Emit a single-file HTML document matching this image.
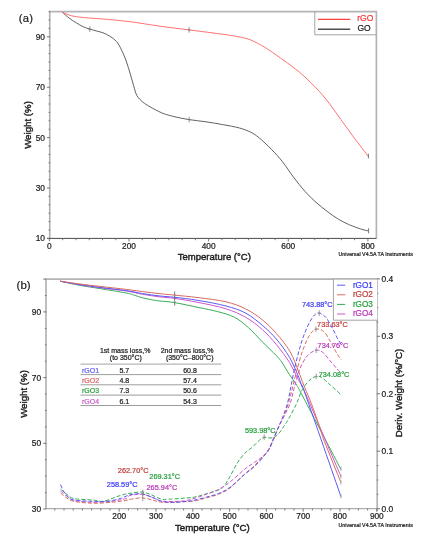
<!DOCTYPE html><html><head><meta charset="utf-8"><title>TGA</title><style>html,body{margin:0;padding:0;background:#fff;width:429px;height:550px;overflow:hidden}svg{display:block;filter:blur(0.25px)}text{font-family:"Liberation Sans",Arial,sans-serif}.t{stroke-width:0.22px;paint-order:stroke}.h{stroke-width:0.4px}</style></head><body>
<svg width="429" height="550" viewBox="0 0 429 550">
<path d="M49.75,238.4 V11.6 H376.4 V238.4" fill="none" stroke="#b4b4b4" stroke-width="1.7"/>
<path d="M47,238.4 H376.4" stroke="#4a4a4a" stroke-width="1"/>
<path d="M49.4,238.4 v3 M62.7,238.4 v1.8 M75.9,238.4 v1.8 M89.2,238.4 v1.8 M102.5,238.4 v1.8 M115.8,238.4 v1.8 M129.0,238.4 v3 M142.3,238.4 v1.8 M155.6,238.4 v1.8 M168.8,238.4 v1.8 M182.1,238.4 v1.8 M195.4,238.4 v1.8 M208.6,238.4 v3 M221.9,238.4 v1.8 M235.2,238.4 v1.8 M248.4,238.4 v1.8 M261.7,238.4 v1.8 M275.0,238.4 v1.8 M288.3,238.4 v3 M301.5,238.4 v1.8 M314.8,238.4 v1.8 M328.1,238.4 v1.8 M341.3,238.4 v1.8 M354.6,238.4 v1.8 M367.9,238.4 v3" stroke="#6a6a6a" stroke-width="0.9"/>
<path d="M50.1,11.6 h-1.5 M50.1,20.0 h-1.5 M50.1,28.4 h-1.5 M50.1,36.8 h-3.2 M50.1,45.2 h-1.5 M50.1,53.6 h-1.5 M50.1,62.0 h-1.5 M50.1,70.4 h-1.5 M50.1,78.8 h-1.5 M50.1,87.2 h-3.2 M50.1,95.6 h-1.5 M50.1,104.0 h-1.5 M50.1,112.4 h-1.5 M50.1,120.8 h-1.5 M50.1,129.2 h-1.5 M50.1,137.6 h-3.2 M50.1,146.0 h-1.5 M50.1,154.4 h-1.5 M50.1,162.8 h-1.5 M50.1,171.2 h-1.5 M50.1,179.6 h-1.5 M50.1,188.0 h-3.2 M50.1,196.4 h-1.5 M50.1,204.8 h-1.5 M50.1,213.2 h-1.5 M50.1,221.6 h-1.5 M50.1,230.0 h-1.5 M50.1,238.4 h-3.2" stroke="#6a6a6a" stroke-width="0.9"/>
<text class="t" x="45.0" y="39.8" font-size="8.4" fill="#1c1c1c" stroke="#1c1c1c" text-anchor="end">90</text>
<text class="t" x="45.0" y="90.2" font-size="8.4" fill="#1c1c1c" stroke="#1c1c1c" text-anchor="end">70</text>
<text class="t" x="45.0" y="140.6" font-size="8.4" fill="#1c1c1c" stroke="#1c1c1c" text-anchor="end">50</text>
<text class="t" x="45.0" y="191.0" font-size="8.4" fill="#1c1c1c" stroke="#1c1c1c" text-anchor="end">30</text>
<text class="t" x="45.0" y="241.4" font-size="8.4" fill="#1c1c1c" stroke="#1c1c1c" text-anchor="end">10</text>
<text class="t" x="49.4" y="249.3" font-size="8.3" fill="#1c1c1c" stroke="#1c1c1c" text-anchor="middle">0</text>
<text class="t" x="129.0" y="249.3" font-size="8.3" fill="#1c1c1c" stroke="#1c1c1c" text-anchor="middle">200</text>
<text class="t" x="208.6" y="249.3" font-size="8.3" fill="#1c1c1c" stroke="#1c1c1c" text-anchor="middle">400</text>
<text class="t" x="288.2" y="249.3" font-size="8.3" fill="#1c1c1c" stroke="#1c1c1c" text-anchor="middle">600</text>
<text class="t" x="367.8" y="249.3" font-size="8.3" fill="#1c1c1c" stroke="#1c1c1c" text-anchor="middle">800</text>
<text class="t h" x="214.3" y="259.9" font-size="9.55" fill="#1c1c1c" stroke="#1c1c1c" text-anchor="middle">Temperature (°C)</text>
<text class="t h" transform="translate(31.2,125) rotate(-90)" font-size="9.7" fill="#1c1c1c" stroke="#1c1c1c" text-anchor="middle">Weight (%)</text>
<text class="t" x="18.8" y="21.9" font-size="11.2" fill="#1c1c1c" stroke="#1c1c1c" letter-spacing="0.3">(a)</text>
<text class="t" x="375.7" y="256.4" font-size="5.3" fill="#1c1c1c" stroke="#1c1c1c" text-anchor="middle">Universal V4.5A TA Instruments</text>
<path d="M62.3,12.3 C63.5,13.3 67.0,16.4 69.3,18.2 C71.6,19.9 74.0,21.4 76.3,22.8 C78.6,24.2 81.0,25.8 83.3,26.8 C85.5,27.9 87.5,28.4 89.8,29.1 C92.1,29.8 95.1,30.6 97.3,31.2 C99.5,31.8 100.9,32.0 103.0,32.8 C105.1,33.6 107.6,34.8 109.8,36.2 C112.0,37.6 114.5,39.2 116.4,41.4 C118.3,43.6 119.7,46.2 121.3,49.5 C122.9,52.8 124.7,56.9 126.2,61.0 C127.7,65.1 129.1,70.0 130.3,74.1 C131.5,78.2 132.5,82.0 133.6,85.6 C134.7,89.1 135.3,92.7 136.8,95.4 C138.3,98.1 140.4,100.0 142.6,101.9 C144.8,103.8 146.9,105.0 150.0,106.8 C153.1,108.6 157.5,111.0 161.2,112.6 C164.9,114.2 167.7,115.0 172.4,116.2 C177.1,117.4 183.6,118.7 189.2,119.6 C194.8,120.5 200.4,121.0 206.0,121.8 C211.6,122.6 217.1,123.6 222.7,124.6 C228.3,125.6 234.8,126.7 239.5,128.0 C244.2,129.3 247.4,130.6 250.7,132.2 C254.0,133.8 255.7,135.0 259.1,137.8 C262.5,140.6 267.3,145.1 271.2,149.1 C275.1,153.1 278.7,156.9 282.4,161.6 C286.1,166.3 289.9,172.4 293.6,177.3 C297.3,182.2 301.1,187.0 304.8,191.2 C308.5,195.4 312.3,199.0 316.0,202.3 C319.7,205.7 323.4,208.5 327.1,211.3 C330.8,214.1 334.6,216.9 338.3,219.2 C342.0,221.4 345.8,223.2 349.5,224.8 C353.2,226.4 357.6,228.0 360.7,229.0 C363.8,230.0 366.9,230.6 368.2,230.9" fill="none" stroke="#5a5a5a" stroke-width="0.95"/>
<path d="M62.3,12.3 C63.9,12.9 68.2,14.9 71.7,15.8 C75.2,16.7 77.5,16.9 83.3,17.5 C89.1,18.1 98.8,18.6 106.6,19.3 C114.4,20.0 121.1,20.6 130.0,21.7 C138.9,22.8 150.2,24.8 160.0,26.2 C169.8,27.6 179.1,28.6 189.1,29.9 C199.1,31.2 211.8,32.8 220.0,33.9 C228.2,35.0 233.0,35.7 238.0,36.7 C243.0,37.7 245.5,37.9 250.0,39.7 C254.5,41.5 260.1,44.5 265.2,47.5 C270.2,50.5 275.2,54.3 280.3,57.9 C285.4,61.5 290.4,64.9 295.5,69.0 C300.6,73.1 305.6,77.4 310.6,82.4 C315.7,87.4 320.8,92.8 325.8,99.0 C330.9,105.2 335.9,112.7 340.9,119.6 C345.9,126.5 351.4,134.2 356.0,140.3 C360.6,146.4 366.2,153.5 368.2,156.2" fill="none" stroke="#ff6262" stroke-width="0.9"/>
<path d="M88.2,29.1 h3.2 M89.8,26.3 v5.6" stroke="#777" stroke-width="0.8"/>
<path d="M187.6,119.6 h3.2 M189.2,116.8 v5.6" stroke="#777" stroke-width="0.8"/>
<path d="M187.5,29.9 h3.2 M189.1,27.1 v5.6" stroke="#777" stroke-width="0.8"/>
<path d="M368.6,228.3 v5 M368.4,153.8 v4.6" stroke="#666" stroke-width="0.9"/>
<path d="M314.8,11.6 V34.8 H376.4" fill="none" stroke="#9a9a9a" stroke-width="0.9"/>
<path d="M318,19.3 H350.2" stroke="#ff4040" stroke-width="1.2"/>
<path d="M318,29.3 H350.2" stroke="#505050" stroke-width="1.4"/>
<text class="t" x="357.2" y="21.1" font-size="8.5" fill="#ff3333" stroke="#ff3333">rGO</text>
<text class="t" x="357.5" y="30.9" font-size="8.5" fill="#1c1c1c" stroke="#1c1c1c">GO</text>
<path d="M46.0,508.7 V279.1 H377.2 V511.2" fill="none" stroke="#b4b4b4" stroke-width="1.7"/>
<path d="M46.0,508.7 H377.2" stroke="#9a9a9a" stroke-width="1"/>
<path d="M54.8,508.7 v1.8 M64.0,508.7 v1.8 M73.2,508.7 v1.8 M82.4,508.7 v1.8 M91.6,508.7 v1.8 M100.8,508.7 v1.8 M110.0,508.7 v1.8 M119.2,508.7 v3 M128.4,508.7 v1.8 M137.6,508.7 v1.8 M146.8,508.7 v1.8 M156.0,508.7 v3 M165.2,508.7 v1.8 M174.4,508.7 v1.8 M183.6,508.7 v1.8 M192.8,508.7 v3 M202.0,508.7 v1.8 M211.2,508.7 v1.8 M220.4,508.7 v1.8 M229.6,508.7 v3 M238.8,508.7 v1.8 M248.0,508.7 v1.8 M257.2,508.7 v1.8 M266.4,508.7 v3 M275.6,508.7 v1.8 M284.8,508.7 v1.8 M294.0,508.7 v1.8 M303.2,508.7 v3 M312.4,508.7 v1.8 M321.6,508.7 v1.8 M330.8,508.7 v1.8 M340.0,508.7 v3 M349.2,508.7 v1.8 M358.4,508.7 v1.8 M367.6,508.7 v1.8 M376.8,508.7 v3" stroke="#6a6a6a" stroke-width="0.9"/>
<path d="M46.4,279.1 h-3.2 M46.4,295.5 h-1.5 M46.4,311.9 h-3.2 M46.4,328.4 h-1.5 M46.4,344.8 h-1.5 M46.4,361.2 h-1.5 M46.4,377.6 h-3.2 M46.4,394.0 h-1.5 M46.4,410.5 h-1.5 M46.4,426.9 h-1.5 M46.4,443.3 h-3.2 M46.4,459.7 h-1.5 M46.4,476.1 h-1.5 M46.4,492.6 h-1.5 M46.4,509.0 h-3.2" stroke="#6a6a6a" stroke-width="0.9"/>
<path d="M376.8,508.7 h3.2 M376.8,494.3 h1.5 M376.8,480.0 h1.5 M376.8,465.6 h1.5 M376.8,451.2 h3.2 M376.8,436.9 h1.5 M376.8,422.5 h1.5 M376.8,408.2 h1.5 M376.8,393.8 h3.2 M376.8,379.4 h1.5 M376.8,365.1 h1.5 M376.8,350.7 h1.5 M376.8,336.3 h3.2 M376.8,322.0 h1.5 M376.8,307.6 h1.5 M376.8,293.3 h1.5 M376.8,278.9 h3.2" stroke="#6a6a6a" stroke-width="0.9"/>
<text class="t" x="41.2" y="314.9" font-size="8.4" fill="#1c1c1c" stroke="#1c1c1c" text-anchor="end">90</text>
<text class="t" x="41.2" y="380.6" font-size="8.4" fill="#1c1c1c" stroke="#1c1c1c" text-anchor="end">70</text>
<text class="t" x="41.2" y="446.3" font-size="8.4" fill="#1c1c1c" stroke="#1c1c1c" text-anchor="end">50</text>
<text class="t" x="41.2" y="512.0" font-size="8.4" fill="#1c1c1c" stroke="#1c1c1c" text-anchor="end">30</text>
<text class="t" x="119.2" y="519.1" font-size="8.3" fill="#1c1c1c" stroke="#1c1c1c" text-anchor="middle">200</text>
<text class="t" x="156.0" y="519.1" font-size="8.3" fill="#1c1c1c" stroke="#1c1c1c" text-anchor="middle">300</text>
<text class="t" x="192.8" y="519.1" font-size="8.3" fill="#1c1c1c" stroke="#1c1c1c" text-anchor="middle">400</text>
<text class="t" x="229.6" y="519.1" font-size="8.3" fill="#1c1c1c" stroke="#1c1c1c" text-anchor="middle">500</text>
<text class="t" x="266.4" y="519.1" font-size="8.3" fill="#1c1c1c" stroke="#1c1c1c" text-anchor="middle">600</text>
<text class="t" x="303.2" y="519.1" font-size="8.3" fill="#1c1c1c" stroke="#1c1c1c" text-anchor="middle">700</text>
<text class="t" x="340.0" y="519.1" font-size="8.3" fill="#1c1c1c" stroke="#1c1c1c" text-anchor="middle">800</text>
<text class="t" x="376.8" y="519.1" font-size="8.3" fill="#1c1c1c" stroke="#1c1c1c" text-anchor="middle">900</text>
<text class="t" x="381.6" y="511.7" font-size="8.4" fill="#1c1c1c" stroke="#1c1c1c">0.0</text>
<text class="t" x="381.6" y="454.2" font-size="8.4" fill="#1c1c1c" stroke="#1c1c1c">0.1</text>
<text class="t" x="381.6" y="396.8" font-size="8.4" fill="#1c1c1c" stroke="#1c1c1c">0.2</text>
<text class="t" x="381.6" y="339.3" font-size="8.4" fill="#1c1c1c" stroke="#1c1c1c">0.3</text>
<text class="t" x="381.6" y="281.9" font-size="8.4" fill="#1c1c1c" stroke="#1c1c1c">0.4</text>
<text class="t h" x="212.4" y="530.9" font-size="9.75" fill="#1c1c1c" stroke="#1c1c1c" text-anchor="middle">Temperature (°C)</text>
<text class="t h" transform="translate(27.2,394) rotate(-90)" font-size="9.7" fill="#1c1c1c" stroke="#1c1c1c" text-anchor="middle">Weight (%)</text>
<text class="t h" transform="translate(402,393) rotate(-90)" font-size="9.7" fill="#1c1c1c" stroke="#1c1c1c" text-anchor="middle">Deriv. Weight (%/°C)</text>
<text class="t" x="16.6" y="288.6" font-size="11.5" fill="#1c1c1c" stroke="#1c1c1c">(b)</text>
<text class="t" x="375.7" y="526.8" font-size="5.3" fill="#1c1c1c" stroke="#1c1c1c" text-anchor="middle">Universal V4.5A TA Instruments</text>
<path d="M60.2,281.2 C63.5,281.9 73.4,284.2 80.0,285.4 C86.6,286.6 92.3,287.3 100.0,288.6 C107.7,289.9 120.5,291.9 126.3,293.0 C132.1,294.1 131.8,294.5 134.5,295.3 C137.2,296.1 139.9,297.1 142.6,297.8 C145.3,298.5 148.1,299.1 150.8,299.6 C153.5,300.1 155.0,300.4 159.0,300.9 C163.0,301.4 168.2,301.5 174.7,302.6 C181.2,303.7 190.8,305.9 198.0,307.4 C205.2,308.9 211.5,310.0 217.6,311.6 C223.7,313.2 229.2,314.6 234.3,317.2 C239.4,319.8 243.6,323.4 248.3,327.5 C253.0,331.6 257.6,337.1 262.3,341.8 C267.0,346.5 273.0,352.2 276.3,355.6 C279.6,359.1 279.9,359.4 282.0,362.5 C284.1,365.6 286.7,370.4 289.1,374.1 C291.5,377.9 294.2,381.0 296.6,385.0 C299.0,389.0 296.3,384.0 303.7,398.1 C311.1,412.2 334.8,457.7 341.0,469.6" fill="none" stroke="#36ad55" stroke-width="1"/>
<path d="M60.2,281.2 C63.5,281.8 73.4,283.7 80.0,284.8 C86.6,285.9 92.3,286.8 100.0,287.8 C107.7,288.8 119.2,289.9 126.3,291.0 C133.4,292.1 137.0,293.3 142.6,294.3 C148.2,295.3 154.7,296.2 160.0,296.9 C165.3,297.6 168.4,297.5 174.7,298.4 C181.0,299.3 189.4,300.7 198.0,302.4 C206.6,304.1 218.1,306.3 226.0,308.8 C233.9,311.3 239.4,313.8 245.5,317.2 C251.6,320.6 257.2,324.9 262.3,329.5 C267.4,334.1 271.8,339.0 276.3,344.5 C280.8,350.0 285.9,356.7 289.5,362.5 C293.1,368.3 296.1,375.6 298.2,379.5 C300.3,383.4 300.6,383.1 302.1,386.0 C303.6,388.9 300.5,381.9 307.0,397.0 C313.5,412.1 335.3,463.3 341.0,476.6" fill="none" stroke="#cc58cc" stroke-width="1"/>
<path d="M60.2,281.2 C63.5,281.8 73.4,283.6 80.0,284.6 C86.6,285.6 92.3,286.4 100.0,287.4 C107.7,288.4 119.2,289.6 126.3,290.6 C133.4,291.6 137.0,292.7 142.6,293.6 C148.2,294.5 154.7,295.4 160.0,296.0 C165.3,296.6 168.4,296.6 174.7,297.3 C181.0,298.0 189.4,298.9 198.0,300.4 C206.6,301.8 218.1,303.9 226.0,306.0 C233.9,308.1 239.4,309.8 245.5,313.0 C251.6,316.2 257.2,321.0 262.3,325.3 C267.4,329.6 271.8,333.7 276.3,339.0 C280.8,344.3 285.9,351.2 289.5,357.3 C293.1,363.4 296.1,371.0 298.2,375.9 C300.3,380.8 300.7,383.2 302.0,386.5 C303.3,389.8 299.4,377.5 305.9,395.9 C312.4,414.3 335.1,479.9 341.0,496.7" fill="none" stroke="#5a5af6" stroke-width="1"/>
<path d="M60.2,281.2 C63.5,281.7 73.4,283.1 80.0,284.0 C86.6,284.9 92.3,285.5 100.0,286.4 C107.7,287.3 119.2,288.5 126.3,289.4 C133.4,290.3 137.0,290.9 142.6,291.6 C148.2,292.3 154.7,293.1 160.0,293.7 C165.3,294.3 168.4,294.5 174.7,295.1 C181.0,295.8 189.4,296.5 198.0,297.6 C206.6,298.7 218.1,299.9 226.0,301.8 C233.9,303.7 239.4,305.8 245.5,308.8 C251.6,311.8 257.2,315.7 262.3,319.8 C267.4,323.9 271.7,328.1 276.3,333.4 C280.9,338.7 286.4,345.3 290.0,351.5 C293.6,357.7 295.9,364.9 298.2,370.5 C300.5,376.1 301.9,380.4 303.7,385.0 C305.5,389.6 307.4,393.6 309.2,398.1 C311.0,402.7 312.8,407.2 314.6,412.3 C316.4,417.4 318.5,423.7 320.1,428.6 C321.8,433.5 321.0,432.6 324.5,441.6 C328.0,450.6 338.2,475.8 341.0,482.6" fill="none" stroke="#d86a60" stroke-width="1"/>
<path d="M60.6,489.2 C61.5,490.0 64.0,492.3 66.2,493.9 C68.4,495.4 69.4,497.5 73.7,498.5 C78.0,499.5 87.3,499.5 92.3,500.0 C97.3,500.5 99.5,501.9 103.5,501.3 C107.5,500.8 112.9,497.9 116.6,496.7 C120.3,495.5 123.7,494.5 125.9,493.9 C128.1,493.3 127.4,493.6 130.0,493.3 C132.6,493.0 138.2,491.8 141.7,492.0 C145.2,492.2 148.0,493.6 151.2,494.8 C154.4,496.0 158.2,498.3 161.0,499.0 C163.8,499.7 164.5,499.3 168.0,499.2 C171.5,499.1 177.5,498.7 182.0,498.3 C186.5,497.9 190.9,497.8 195.0,497.0 C199.1,496.2 202.8,494.8 206.7,493.6 C210.6,492.5 215.4,491.4 218.3,490.1 C221.2,488.8 222.2,488.3 224.1,486.0 C226.0,483.7 227.8,480.2 230.0,476.5 C232.2,472.8 234.6,467.4 237.0,463.5 C239.4,459.6 242.0,456.2 244.6,453.4 C247.2,450.6 250.2,449.1 252.7,446.9 C255.1,444.7 257.4,441.9 259.3,440.3 C261.2,438.8 262.6,438.0 264.2,437.6 C265.8,437.2 267.4,438.1 269.0,438.0 C270.6,437.9 272.4,438.1 274.0,437.3 C275.6,436.6 277.2,435.3 278.8,433.5 C280.4,431.7 282.1,428.9 283.7,426.5 C285.3,424.1 286.4,422.8 288.5,419.0 C290.6,415.2 294.2,408.8 296.4,404.0 C298.6,399.2 299.7,394.4 301.8,390.5 C303.9,386.6 306.7,382.9 309.1,380.5 C311.5,378.1 314.1,376.9 316.2,376.4 C318.3,375.9 319.2,376.1 321.6,377.5 C324.0,378.9 327.1,382.2 330.4,385.1 C333.7,388.0 339.5,393.3 341.3,394.9" fill="none" stroke="#36ad55" stroke-width="1" stroke-dasharray="4,2"/>
<path d="M60.6,491.0 C61.5,491.8 64.0,494.1 66.2,495.7 C68.4,497.3 69.4,499.3 73.7,500.4 C78.0,501.5 86.1,502.1 92.3,502.3 C98.5,502.5 105.4,501.9 111.0,501.3 C116.6,500.7 122.7,499.5 125.9,498.5 C129.1,497.5 127.4,496.2 130.0,495.5 C132.6,494.8 138.2,494.1 141.7,494.3 C145.2,494.5 147.8,495.8 151.2,496.9 C154.6,498.0 157.3,500.4 162.4,501.1 C167.5,501.8 176.6,501.6 182.0,501.1 C187.4,500.6 190.9,499.4 195.0,498.2 C199.1,497.0 202.8,495.6 206.7,494.1 C210.6,492.7 214.4,491.5 218.3,489.5 C222.2,487.5 225.6,485.4 230.0,482.0 C234.4,478.6 240.5,472.6 244.6,469.3 C248.7,466.0 251.4,464.5 254.4,462.4 C257.4,460.3 260.1,458.9 262.5,456.7 C264.9,454.5 267.1,452.5 269.0,449.4 C270.9,446.3 272.4,441.8 274.0,438.0 C275.6,434.2 277.1,430.2 278.8,426.5 C280.5,422.8 282.1,419.8 284.0,416.0 C285.9,412.2 288.2,408.9 290.0,404.0 C291.8,399.1 292.8,392.7 294.5,386.8 C296.2,380.9 297.9,373.8 300.0,368.6 C302.1,363.5 304.6,359.0 307.3,355.9 C310.0,352.8 313.6,350.8 316.2,350.2 C318.8,349.6 320.3,350.6 322.7,352.4 C325.1,354.2 328.0,358.4 330.4,361.1 C332.8,363.8 335.1,366.7 336.9,368.7 C338.7,370.7 340.6,372.4 341.3,373.1" fill="none" stroke="#cc58cc" stroke-width="1" stroke-dasharray="4,2"/>
<path d="M60.6,493.0 C61.5,493.8 64.0,496.2 66.2,497.6 C68.4,499.0 69.4,500.4 73.7,501.3 C78.0,502.2 86.1,503.0 92.3,503.2 C98.5,503.4 105.4,502.8 111.0,502.3 C116.6,501.8 122.7,500.9 125.9,500.4 C129.1,499.9 127.4,499.8 130.0,499.4 C132.6,499.0 138.2,497.8 141.7,497.8 C145.2,497.9 147.8,498.9 151.2,499.7 C154.6,500.4 157.3,501.9 162.4,502.3 C167.5,502.7 176.6,502.1 182.0,501.8 C187.4,501.6 190.9,501.5 195.0,500.8 C199.1,500.1 202.8,498.9 206.7,497.8 C210.6,496.7 214.4,495.9 218.3,494.3 C222.2,492.7 225.6,491.4 230.0,488.0 C234.4,484.6 240.5,477.7 244.6,474.0 C248.7,470.3 251.1,468.9 254.4,465.7 C257.7,462.5 261.8,457.9 264.2,455.0 C266.6,452.1 267.4,451.5 269.0,448.5 C270.6,445.5 272.2,441.0 274.0,437.1 C275.8,433.2 277.9,428.4 279.6,424.9 C281.3,421.4 282.6,419.5 284.0,416.0 C285.4,412.5 286.8,408.9 288.2,404.0 C289.6,399.1 291.2,392.7 292.7,386.8 C294.2,380.9 295.6,374.7 297.3,368.6 C299.0,362.6 300.7,355.9 302.7,350.5 C304.7,345.1 306.9,339.4 309.1,335.9 C311.3,332.3 313.4,329.9 315.9,329.2 C318.3,328.5 321.4,329.6 323.8,331.6 C326.2,333.7 328.2,337.9 330.4,341.5 C332.6,345.1 335.1,350.4 336.9,353.5 C338.7,356.6 340.6,358.9 341.3,360.0" fill="none" stroke="#d86a60" stroke-width="1" stroke-dasharray="4,2"/>
<path d="M60.6,484.5 C61.1,485.6 62.2,489.0 63.4,491.0 C64.6,493.0 66.3,495.2 68.0,496.7 C69.7,498.2 69.7,499.2 73.7,500.0 C77.8,500.8 86.7,501.1 92.3,501.3 C97.9,501.5 102.5,501.8 107.2,501.3 C111.9,500.8 116.5,499.6 120.3,498.5 C124.1,497.4 126.4,495.6 130.0,494.8 C133.6,494.0 137.8,493.4 141.7,493.9 C145.6,494.4 149.9,496.5 153.3,497.8 C156.8,499.1 158.8,500.8 162.4,501.5 C166.0,502.2 170.6,502.4 175.0,502.3 C179.4,502.2 185.7,501.5 189.0,501.1 C192.3,500.7 192.1,500.7 195.0,500.0 C197.9,499.3 202.8,498.1 206.7,497.0 C210.6,495.9 214.4,495.2 218.3,493.6 C222.2,492.0 225.6,490.5 230.0,487.3 C234.4,484.1 240.5,478.0 244.6,474.5 C248.7,471.0 251.1,469.6 254.4,466.5 C257.7,463.4 261.8,458.8 264.2,455.9 C266.6,453.0 267.4,452.4 269.0,449.4 C270.6,446.4 272.4,441.8 274.0,438.0 C275.6,434.2 277.4,429.8 278.8,426.5 C280.2,423.2 281.0,421.8 282.4,418.0 C283.8,414.2 285.9,409.2 287.3,404.0 C288.7,398.8 289.7,392.7 290.9,386.8 C292.1,380.9 293.1,374.7 294.5,368.6 C295.9,362.6 297.6,355.9 299.1,350.5 C300.6,345.1 301.9,340.4 303.6,335.9 C305.3,331.3 307.3,326.7 309.1,323.2 C310.9,319.7 312.8,316.7 314.5,315.0 C316.2,313.3 317.4,312.7 319.3,313.1 C321.2,313.5 323.8,314.9 326.0,317.5 C328.2,320.1 330.5,324.8 332.5,328.4 C334.5,332.0 336.5,336.6 338.0,339.3 C339.5,342.0 340.8,343.8 341.3,344.7" fill="none" stroke="#5a5af6" stroke-width="1" stroke-dasharray="4,2"/>
<path d="M174.7,291.5 V305.7" stroke="#555" stroke-width="0.8"/>
<path d="M317.7,313.1 h3.2 M319.3,310.3 v5.6" stroke="#888" stroke-width="0.8"/>
<path d="M314.3,329.2 h3.2 M315.9,326.4 v5.6" stroke="#888" stroke-width="0.8"/>
<path d="M314.6,350.2 h3.2 M316.2,347.4 v5.6" stroke="#888" stroke-width="0.8"/>
<path d="M314.6,376.4 h3.2 M316.2,373.6 v5.6" stroke="#888" stroke-width="0.8"/>
<path d="M262.6,437.1 h3.2 M264.2,434.3 v5.6" stroke="#888" stroke-width="0.8"/>
<path d="M141.2,493.2 h3.2 M142.8,490.4 v5.6" stroke="#888" stroke-width="0.8"/>
<path d="M142.8,489.7 V501.3" stroke="#888" stroke-width="0.8"/>
<path d="M340.9,466.5 v4.4" stroke="#999" stroke-width="0.8"/>
<path d="M340.9,474.3 v4.4" stroke="#999" stroke-width="0.8"/>
<path d="M340.9,480.3 v4.4" stroke="#999" stroke-width="0.8"/>
<path d="M340.9,494.2 v4.4" stroke="#999" stroke-width="0.8"/>
<text class="t" x="301.9" y="307.4" font-size="7.35" fill="#3c3cf2" stroke="#3c3cf2">743.88°C</text>
<text class="t" x="317.1" y="326.6" font-size="7.35" fill="#c0403c" stroke="#c0403c">733.63°C</text>
<text class="t" x="317.6" y="348.4" font-size="7.35" fill="#bb36bb" stroke="#bb36bb">734.76°C</text>
<text class="t" x="318.7" y="377.2" font-size="7.35" fill="#28a03e" stroke="#28a03e">734.08°C</text>
<text class="t" x="244.9" y="432.8" font-size="7.35" fill="#28a03e" stroke="#28a03e">593.98°C</text>
<text class="t" x="117.8" y="472.8" font-size="7.35" fill="#c0403c" stroke="#c0403c">262.70°C</text>
<text class="t" x="149.3" y="479.3" font-size="7.35" fill="#28a03e" stroke="#28a03e">269.31°C</text>
<text class="t" x="106.8" y="486.7" font-size="7.35" fill="#3c3cf2" stroke="#3c3cf2">258.59°C</text>
<text class="t" x="146.5" y="489.8" font-size="7.35" fill="#bb36bb" stroke="#bb36bb">265.94°C</text>
<path d="M377.2,279.1 H333.4 V320.2 H377.2" fill="#fff" stroke="#9a9a9a" stroke-width="0.9"/>
<path d="M337,285.2 H345.2" stroke="#5a5af6" stroke-width="1"/>
<text class="t" x="352.9" y="287.5" font-size="8.2" fill="#3c3cf2" stroke="#3c3cf2">rGO1</text>
<path d="M337,294.8 H345.2" stroke="#d86a60" stroke-width="1"/>
<text class="t" x="352.9" y="297.1" font-size="8.2" fill="#c0403c" stroke="#c0403c">rGO2</text>
<path d="M337,304.4 H345.2" stroke="#36ad55" stroke-width="1"/>
<text class="t" x="352.9" y="306.7" font-size="8.2" fill="#28a03e" stroke="#28a03e">rGO3</text>
<path d="M337,314.0 H345.2" stroke="#cc58cc" stroke-width="1"/>
<text class="t" x="352.9" y="316.3" font-size="8.2" fill="#bb36bb" stroke="#bb36bb">rGO4</text>
<text class="t" x="125.2" y="352.6" font-size="7" fill="#222" stroke="#222" text-anchor="middle">1st mass loss,%</text>
<text class="t" x="125.8" y="360.4" font-size="7" fill="#222" stroke="#222" text-anchor="middle">(to 350°C)</text>
<text class="t" x="187.1" y="352.6" font-size="7" fill="#222" stroke="#222" text-anchor="middle">2nd mass loss,%</text>
<text class="t" x="189.7" y="360.4" font-size="7" fill="#222" stroke="#222" text-anchor="middle">(350°C–800°C)</text>
<text class="t" x="82.0" y="372.6" font-size="7" fill="#6464f4" stroke="#6464f4">rGO1</text>
<text class="t" x="124.3" y="372.6" font-size="7" fill="#222" stroke="#222" text-anchor="middle">5.7</text>
<text class="t" x="190.0" y="372.6" font-size="7" fill="#222" stroke="#222" text-anchor="middle">60.8</text>
<text class="t" x="82.0" y="383.0" font-size="7" fill="#dc6666" stroke="#dc6666">rGO2</text>
<text class="t" x="124.3" y="383.0" font-size="7" fill="#222" stroke="#222" text-anchor="middle">4.8</text>
<text class="t" x="190.0" y="383.0" font-size="7" fill="#222" stroke="#222" text-anchor="middle">57.4</text>
<text class="t" x="82.0" y="393.3" font-size="7" fill="#2e9e3e" stroke="#2e9e3e">rGO3</text>
<text class="t" x="124.3" y="393.3" font-size="7" fill="#222" stroke="#222" text-anchor="middle">7.3</text>
<text class="t" x="190.0" y="393.3" font-size="7" fill="#222" stroke="#222" text-anchor="middle">50.6</text>
<text class="t" x="82.0" y="403.7" font-size="7" fill="#cc60cc" stroke="#cc60cc">rGO4</text>
<text class="t" x="124.3" y="403.7" font-size="7" fill="#222" stroke="#222" text-anchor="middle">6.1</text>
<text class="t" x="190.0" y="403.7" font-size="7" fill="#222" stroke="#222" text-anchor="middle">54.3</text>
<path d="M80.5,364.1 H221.3" stroke="#9a9a9a" stroke-width="0.9"/>
<path d="M80.5,374.6 H221.3 M80.5,384.8 H221.3 M80.5,395.1 H221.3 M80.5,405.5 H221.3" stroke="#8a8a8a" stroke-width="0.85"/>
</svg></body></html>
